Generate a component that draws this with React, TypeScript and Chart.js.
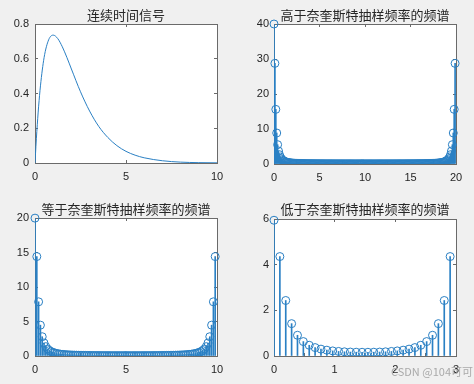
import React, { useEffect, useRef } from 'react';
import { Chart, registerables } from 'chart.js';

Chart.register(...registerables);

// ---------- data ----------
const titles = ['连续时间信号', '高于奈奎斯特抽样频率的频谱', '等于奈奎斯特抽样频率的频谱', '低于奈奎斯特抽样频率的频谱'];

// continuous-time signal
const sigT = [0, 0.05, 0.1, 0.2, 0.3, 0.5, 0.75, 1, 1.25, 1.5, 1.75, 2, 2.5, 3, 3.5, 4, 4.5, 5, 5.5, 6, 7, 8, 9, 10];
const sigX = [0, 0.095, 0.181, 0.327, 0.444, 0.607, 0.709, 0.736, 0.716, 0.669, 0.608, 0.541, 0.41, 0.299, 0.211, 0.147, 0.1, 0.067, 0.045, 0.03, 0.013, 0.005, 0.002, 0.001];

// spectrum, sampling above Nyquist (frequency span 0..20)
const fsHigh = 20;
const specHigh = [
  40.0, 28.75, 15.61, 8.858, 5.52, 3.72, 2.661, 1.992, 1.545, 1.233,
  1.006, 0.836, 0.706, 0.605, 0.524, 0.458, 0.404, 0.359, 0.322, 0.29,
  0.263, 0.239, 0.219, 0.201, 0.185, 0.172, 0.159, 0.149, 0.139, 0.13,
  0.122, 0.115, 0.108, 0.103, 0.097, 0.092, 0.088, 0.084, 0.08, 0.076,
  0.073, 0.07, 0.067, 0.064, 0.062, 0.06, 0.058, 0.056, 0.054, 0.052,
  0.05, 0.049, 0.047, 0.046, 0.045, 0.044, 0.042, 0.041, 0.04, 0.039,
  0.038, 0.038, 0.037, 0.036, 0.035, 0.035, 0.034, 0.033, 0.033, 0.032,
  0.032, 0.031, 0.031, 0.03, 0.03, 0.029, 0.029, 0.029, 0.028, 0.028,
  0.028, 0.027, 0.027, 0.027, 0.027, 0.027, 0.026, 0.026, 0.026, 0.026,
  0.026, 0.026, 0.025, 0.025, 0.025, 0.025, 0.025, 0.025, 0.025, 0.025,
  0.025,
  0.025, 0.025, 0.025, 0.025, 0.025, 0.025, 0.025, 0.025, 0.025, 0.026,
  0.026, 0.026, 0.026, 0.026, 0.026, 0.027, 0.027, 0.027, 0.027, 0.027,
  0.028, 0.028, 0.028, 0.029, 0.029, 0.029, 0.03, 0.03, 0.031, 0.031,
  0.032, 0.032, 0.033, 0.033, 0.034, 0.035, 0.035, 0.036, 0.037, 0.038,
  0.038, 0.039, 0.04, 0.041, 0.042, 0.044, 0.045, 0.046, 0.047, 0.049,
  0.05, 0.052, 0.054, 0.056, 0.058, 0.06, 0.062, 0.064, 0.067, 0.07,
  0.073, 0.076, 0.08, 0.084, 0.088, 0.092, 0.097, 0.103, 0.108, 0.115,
  0.122, 0.13, 0.139, 0.149, 0.159, 0.172, 0.185, 0.201, 0.219, 0.239,
  0.263, 0.29, 0.322, 0.359, 0.404, 0.458, 0.524, 0.605, 0.706, 0.836,
  1.006, 1.233, 1.545, 1.992, 2.661, 3.72, 5.52, 8.858, 15.61, 28.75,
];

// spectrum, sampling at Nyquist (frequency span 0..10)
const fsNyq = 10;
const specNyq = [
  19.98, 14.41, 7.853, 4.47, 2.793, 1.887, 1.354, 1.017, 0.792, 0.634,
  0.52, 0.435, 0.369, 0.318, 0.277, 0.244, 0.217, 0.195, 0.176, 0.16,
  0.146, 0.135, 0.124, 0.116, 0.108, 0.101, 0.095, 0.09, 0.085, 0.081,
  0.077, 0.074, 0.071, 0.068, 0.066, 0.064, 0.062, 0.06, 0.058, 0.057,
  0.056, 0.055, 0.054, 0.053, 0.052, 0.051, 0.051, 0.051, 0.05, 0.05,
  0.05,
  0.05, 0.05, 0.05, 0.051, 0.051, 0.051, 0.052, 0.053, 0.054, 0.055,
  0.056, 0.057, 0.058, 0.06, 0.062, 0.064, 0.066, 0.068, 0.071, 0.074,
  0.077, 0.081, 0.085, 0.09, 0.095, 0.101, 0.108, 0.116, 0.124, 0.135,
  0.146, 0.16, 0.176, 0.195, 0.217, 0.244, 0.277, 0.318, 0.369, 0.435,
  0.52, 0.634, 0.792, 1.017, 1.354, 1.887, 2.793, 4.47, 7.853, 14.41,
];

// spectrum, sampling below Nyquist (frequency span 0..3)
const fsLow = 3;
const specLow = [
  5.945, 4.355, 2.431, 1.417, 0.908, 0.632, 0.47, 0.369, 0.301, 0.255,
  0.223, 0.2, 0.184, 0.173, 0.166, 0.163, 0.163, 0.166, 0.173, 0.184,
  0.2, 0.223, 0.255, 0.301, 0.369, 0.47, 0.632, 0.908, 1.417, 2.431, 4.355,
];

const xMaxes = [10, 20, 10, 3];
const xSteps = [5, 5, 5, 1];
const yMaxes = [0.8, 40, 20, 6];
const ySteps = [0.2, 10, 5, 2];

// ---------- styling ----------
const BLUE = '#2a80c4';
const AXIS = '#6a6a6a';
const TEXT = '#262626';
const TICK_FONT = { family: "'Liberation Sans', Arial, sans-serif", size: 11 };
const TITLE_FONT = { family: "'Noto Sans CJK SC', sans-serif", size: 13, weight: 'normal' as const, lineHeight: 1.2 };

type Geo = { left: number; top: number; w: number; h: number; yW: number; y2W: number; xH: number; x2H: number; titlePad: number; yPad: number };

const geos: Geo[] = [
  { left: 0, top: 0, w: 237, h: 192, yW: 35, y2W: 20, xH: 29, x2H: 24, titlePad: 7, yPad: 9 },
  { left: 237, top: 0, w: 237, h: 192, yW: 37, y2W: 18, xH: 28, x2H: 24, titlePad: 7, yPad: 8 },
  { left: 0, top: 192, w: 237, h: 192, yW: 35, y2W: 20, xH: 28, x2H: 26, titlePad: 9, yPad: 9 },
  { left: 237, top: 192, w: 237, h: 192, yW: 37, y2W: 18, xH: 28, x2H: 27, titlePad: 9, yPad: 8 },
];

const plotBg = {
  id: 'plotBg',
  beforeDraw(chart: any) {
    const { ctx, chartArea } = chart;
    ctx.save();
    ctx.fillStyle = '#ffffff';
    ctx.fillRect(chartArea.left, chartArea.top, chartArea.width, chartArea.height);
    ctx.restore();
  },
};

function axis(position: string, min: number, max: number, step: number, size: number, labels: boolean, pad: number, title?: string, titlePad?: number) {
  const horizontal = position === 'top' || position === 'bottom';
  return {
    type: 'linear',
    position,
    min,
    max,
    offset: false,
    grid: { display: true, drawOnChartArea: false, drawTicks: true, tickLength: -3, color: AXIS, lineWidth: 1 },
    border: { display: true, color: AXIS, width: 1 },
    ticks: {
      display: labels,
      stepSize: step,
      autoSkip: false,
      maxRotation: 0,
      padding: pad,
      color: TEXT,
      font: TICK_FONT,
    },
    title: title
      ? { display: true, text: title, color: TEXT, font: TITLE_FONT, padding: { top: titlePad, bottom: 0 } }
      : { display: false },
    afterFit: (s: any) => {
      if (horizontal) s.height = size;
      else s.width = size;
    },
  };
}

function stemData(values: number[], fs: number) {
  const n = values.length;
  return values.map((v, i) => ({ x: (i * fs) / n, y: v }));
}

function Panel({ idx }: { idx: number }) {
  const ref = useRef<HTMLCanvasElement | null>(null);
  const g = geos[idx];
  useEffect(() => {
    if (!ref.current) return;
    let datasets: any[] = [];
    if (idx === 0) {
      datasets = [
        {
          type: 'line',
          data: sigT.map((t, i) => ({ x: t, y: sigX[i] })),
          borderColor: BLUE,
          borderWidth: 1,
          pointRadius: 0,
          cubicInterpolationMode: 'monotone',
          fill: false,
        },
      ];
    } else {
      const vals = idx === 1 ? specHigh : idx === 2 ? specNyq : specLow;
      const fs = idx === 1 ? fsHigh : idx === 2 ? fsNyq : fsLow;
      const pts = stemData(vals, fs);
      datasets = [
        {
          type: 'line',
          data: pts,
          showLine: false,
          pointRadius: 4,
          pointBorderWidth: 1,
          pointBorderColor: BLUE,
          pointBackgroundColor: 'rgba(0,0,0,0)',
          clip: { left: 8, top: 8, right: 8, bottom: 0 },
        },
        {
          type: 'bar',
          data: pts,
          barThickness: 1,
          backgroundColor: BLUE,
          borderWidth: 0,
        },
      ];
    }
    const chart = new Chart(ref.current, {
      type: 'scatter',
      data: { datasets },
      plugins: [plotBg],
      options: {
        responsive: false,
        animation: false,
        events: [],
        layout: { padding: 0 },
        plugins: { legend: { display: false }, tooltip: { enabled: false }, title: { display: false } },
        scales: {
          x: axis('bottom', 0, xMaxes[idx], xSteps[idx], g.xH, true, 10),
          x2: axis('top', 0, xMaxes[idx], xSteps[idx], g.x2H, false, 0, titles[idx], g.titlePad),
          y: axis('left', 0, yMaxes[idx], ySteps[idx], g.yW, true, g.yPad),
          y2: axis('right', 0, yMaxes[idx], ySteps[idx], g.y2W, false, 0),
        },
      } as any,
    } as any);
    return () => chart.destroy();
  }, [idx]);
  return (
    <div style={{ position: 'absolute', left: g.left, top: g.top, width: g.w, height: g.h }}>
      <canvas ref={ref} width={g.w} height={g.h} style={{ display: 'block', width: g.w, height: g.h }} />
    </div>
  );
}

export default function App() {
  return (
    <div style={{ position: 'absolute', left: 0, top: 0, width: 474, height: 384, background: '#f0f0f0', overflow: 'hidden' }}>
      {[0, 1, 2, 3].map((i) => (
        <Panel key={i} idx={i} />
      ))}
      <div
        style={{
          position: 'absolute',
          left: 391,
          top: 364,
          fontSize: 11,
          lineHeight: '14px',
          color: 'rgba(165,165,165,0.95)',
          fontFamily: "'Noto Sans CJK SC', sans-serif",
          whiteSpace: 'nowrap',
        }}
      >
        CSDN @104可可
      </div>
    </div>
  );
}
